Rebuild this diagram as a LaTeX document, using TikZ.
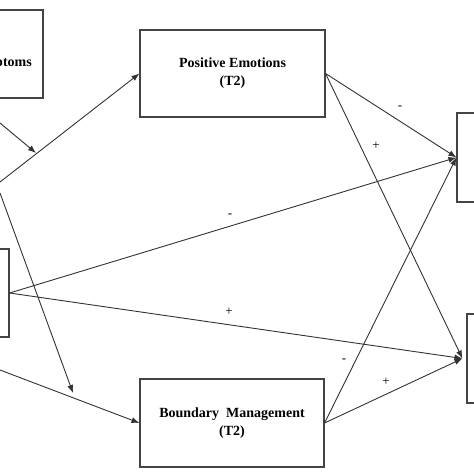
\documentclass[tikz,border=0pt]{standalone}
\usepackage{fontspec}
\setmainfont{Liberation Serif}
\usetikzlibrary{arrows.meta}
\definecolor{ln}{HTML}{333333}
\definecolor{bx}{HTML}{444444}
\begin{document}
\begin{tikzpicture}[x=1pt,y=-1pt,
  box/.style={draw=bx, line width=1.1pt, inner sep=0pt, align=center,
    font=\fontsize{14}{18}\selectfont\bfseries},
  conn/.style={draw=ln, line width=0.9pt, -{Latex[length=8pt,width=6pt]}},
  sign/.style={font=\fontsize{13}{15}\selectfont, inner sep=0pt}]
\useasboundingbox (0,0) rectangle (474,474);
\clip (0,0) rectangle (474,474);
\fill[white] (0,0) rectangle (474,474);
% boxes
\node[box, minimum width=103pt, minimum height=88pt] (sym) at (-8.5,54) {};
\node[font=\fontsize{14}{18}\selectfont\bfseries, anchor=east, inner sep=0pt] (symtext) at (32,63) {Symptoms};
\node[box, minimum width=185pt, minimum height=87pt] (pe) at (232.5,73.5) {Positive Emotions\\(T2)};
\node[box, minimum width=184pt, minimum height=88pt] (bm) at (232,423) {Boundary\ \ Management\\(T2)};
\node[box, minimum width=89pt, minimum height=88pt] (lm) at (-35.5,293) {};
\node[box, minimum width=100pt, minimum height=89pt] (rt) at (507,157.5) {};
\node[box, minimum width=100pt, minimum height=89pt] (rb) at (517,358.5) {};
% free ends at the left edge
\coordinate (s1) at (0,182);
\coordinate (s2) at (0,193);
\coordinate (s3) at (0,123);
\coordinate (s4) at (0,370);
\coordinate (m1) at (36,153);
\coordinate (m2) at (73,393);
% connectors
\draw[conn] (s1) -- (pe.west);
\draw[conn] (s3) -- (m1);
\draw[conn] (s2) -- (m2);
\draw[conn] (s4) -- (bm.west);
\draw[conn] (lm.east) -- (rt.west);
\draw[conn] (lm.east) -- ([xshift=-4pt]rb.west);
\draw[conn] (pe.east) -- (rt.west);
\draw[conn] (pe.east) -- ([xshift=-4pt]rb.west);
\draw[conn] (bm.east) -- (rt.west);
\draw[conn] (bm.east) -- ([xshift=-4pt]rb.west);
% signs
\node[sign] (g1) at (400,108) {-};
\node[sign] (g2) at (376,146) {+};
\node[sign] (g3) at (230,216) {-};
\node[sign] (g4) at (229,312) {+};
\node[sign] (g5) at (344,361) {-};
\node[sign] (g6) at (386,382) {+};
\end{tikzpicture}
\end{document}
